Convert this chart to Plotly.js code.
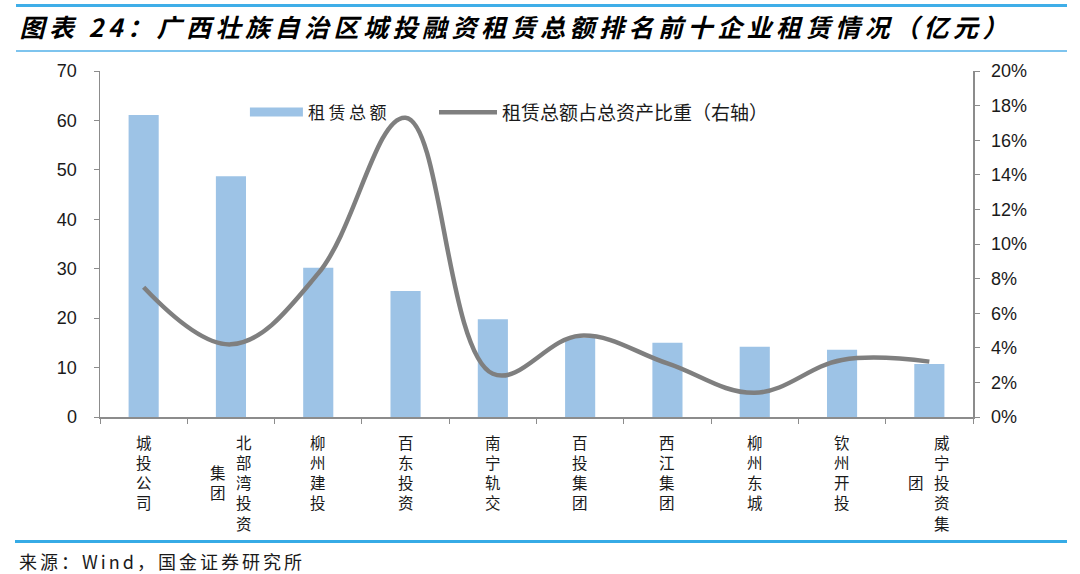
<!DOCTYPE html>
<html>
<head>
<meta charset="utf-8">
<script src="https://cdn.plot.ly/plotly-3.0.1.min.js"></script>
<style>
  html, body { margin: 0; padding: 0; background: #fff; }
  #wrap { position: relative; width: 1080px; height: 574px; }
  #chart { position: absolute; left: 0; top: 0; width: 1080px; height: 574px; z-index: 1; }
  .rule { position: absolute; pointer-events: none; z-index: 5; }
  svg text { text-spacing-trim: space-all; }
  .gtitle { letter-spacing: 4.5px; }
  .legendtext { letter-spacing: 3.5px; }
</style>
</head>
<body>
<div id="wrap">
  <div id="chart"></div>
  <div class="rule" style="left:16px; top:4px; width:1051px; height:3px; background:#3FAEE8;"></div>
  <div class="rule" style="left:16px; top:50px; width:1051px; height:2px; background:#7EC4EE;"></div>
  <div class="rule" style="left:15px; top:540px; width:1052px; height:3px; background:#36ABE6;"></div>
</div>
<script>
// ---- data ----
const categories = ['城投公司', '北部湾投资集团', '柳州建投', '百东投资', '南宁轨交',
                    '百投集团', '西江集团', '柳州东城', '钦州开投', '威宁投资集团'];
const leaseTotal = [61.1, 48.7, 30.2, 25.5, 19.8, 16.0, 15.0, 14.2, 13.6, 10.7];   // 亿元
const leaseRatio = [0.075, 0.042, 0.083, 0.173, 0.025, 0.047, 0.031, 0.014, 0.033, 0.032]; // 占总资产比重
const leftTickVals = [0, 10, 20, 30, 40, 50, 60, 70];
const rightTickVals = [0, 0.02, 0.04, 0.06, 0.08, 0.10, 0.12, 0.14, 0.16, 0.18, 0.20];
const seriesNames = ['租赁总额', '租赁总额占总资产比重（右轴）'];
const titleText = '图表 24：广西壮族自治区城投融资租赁总额排名前十企业租赁情况（亿元）';
const sourceText = '来源：Wind，国金证券研究所';

// ---- style ----
const barColor = '#9DC3E6';
const lineColor = '#7F7F7F';
const axisColor = '#8C8C8C';
const textColor = '#1a1a1a';
const cjk = '"Noto Sans CJK SC", "Noto Sans", sans-serif';
const latin = 'Arial, "Liberation Sans", sans-serif';

const traces = [
  {
    type: 'bar', x: categories, y: leaseTotal, name: seriesNames[0],
    marker: { color: barColor }, showlegend: false, hoverinfo: 'x+y'
  },
  {
    type: 'scatter', mode: 'lines', x: [categories[0]], y: [null], name: seriesNames[0],
    line: { color: barColor, width: 9 }, legend: 'legend', hoverinfo: 'skip'
  },
  {
    type: 'scatter', mode: 'lines', x: categories, y: leaseRatio, name: seriesNames[1],
    yaxis: 'y2', line: { color: lineColor, width: 4.5, shape: 'spline', smoothing: 1.1 },
    legend: 'legend2'
  }
];

// vertical x labels built from category names (right column first 5 chars, remaining to the left)
const labelSize = 15.5;
const lineH = labelSize * 1.3;
const annotations = [];
categories.forEach(function (name) {
  const chars = Array.from(name);
  const col1 = chars.slice(0, 5);
  const col2 = chars.slice(5);
  const two = col2.length > 0;
  annotations.push({
    xref: 'x', yref: 'paper', x: name, y: -0.035, xanchor: 'center', yanchor: 'top',
    text: col1.join('<br>'), showarrow: false, xshift: two ? 13 : 0,
    font: { family: cjk, size: labelSize, color: textColor }
  });
  if (two) {
    annotations.push({
      xref: 'x', yref: 'paper', x: name, y: -0.035, xanchor: 'center', yanchor: 'top',
      text: col2.join('<br>'), showarrow: false, xshift: -13,
      yshift: -((col1.length - col2.length) / 2) * lineH,
      font: { family: cjk, size: labelSize, color: textColor }
    });
  }
});
annotations.push({
  xref: 'paper', yref: 'paper', x: -0.095, y: -0.417, xanchor: 'left', yanchor: 'middle',
  text: sourceText, showarrow: false,
  font: { family: cjk, size: 18, color: textColor }
});

const layout = {
  width: 1080, height: 574,
  margin: { l: 100, r: 107, t: 71, b: 157 },
  paper_bgcolor: 'rgba(255,255,255,0)', plot_bgcolor: 'rgba(255,255,255,0)',
  title: {
    text: titleText, xref: 'container', yref: 'container',
    x: 0.018, xanchor: 'left', y: 0.951, yanchor: 'middle',
    font: { family: cjk, size: 25, color: '#000', weight: 'bold', style: 'italic' }
  },
  bargap: 0.655,
  showlegend: true,
  legend: {
    orientation: 'h', x: 0.166, y: 0.88, xanchor: 'left', yanchor: 'middle',
    bgcolor: 'rgba(0,0,0,0)', itemwidth: 53,
    font: { family: cjk, size: 17, color: textColor }
  },
  legend2: {
    orientation: 'h', x: 0.3826, y: 0.88, xanchor: 'left', yanchor: 'middle',
    bgcolor: 'rgba(0,0,0,0)', itemwidth: 58,
    font: { family: cjk, size: 19, color: textColor }
  },
  xaxis: {
    type: 'category', showgrid: false, zeroline: false,
    showline: true, linecolor: axisColor, linewidth: 1.5,
    ticks: 'outside', tickson: 'boundaries', ticklen: 5, tickcolor: axisColor,
    showticklabels: false, range: [-0.5, categories.length - 0.5]
  },
  yaxis: {
    range: [0, 70], tickvals: leftTickVals, showgrid: false, zeroline: false,
    showline: true, linecolor: axisColor, linewidth: 1.5,
    ticks: 'outside', ticklen: 5, tickcolor: axisColor, ticklabelstandoff: 13,
    tickfont: { family: latin, size: 18, color: textColor }
  },
  yaxis2: {
    overlaying: 'y', side: 'right', range: [0, 0.20], tickvals: rightTickVals,
    tickformat: '.0%', showgrid: false, zeroline: false,
    showline: true, linecolor: axisColor, linewidth: 1.5,
    ticks: 'outside', ticklen: 5, tickcolor: axisColor, ticklabelstandoff: 8,
    tickfont: { family: latin, size: 18, color: textColor }
  },
  annotations: annotations
};

Plotly.newPlot('chart', traces, layout, { staticPlot: true }).then(function () {
  const groups = document.querySelectorAll('g.annotation');
  const last = groups[groups.length - 1];
  if (last) {
    const t = last.querySelector('text');
    if (t) {
      const bb = t.getBBox();
      t.setAttribute('text-anchor', 'start');
      t.setAttribute('x', bb.x);
      t.style.letterSpacing = '3px';
    }
  }
});
</script>
</body>
</html>
